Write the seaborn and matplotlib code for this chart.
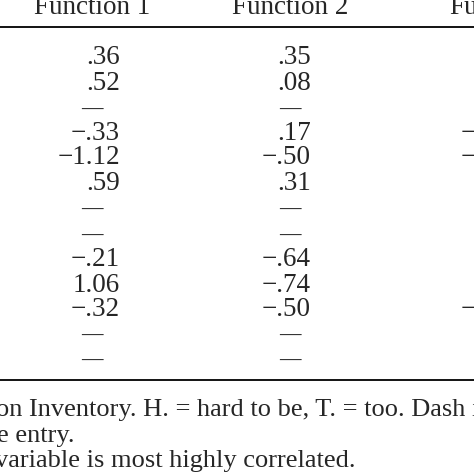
import matplotlib
matplotlib.use("Agg")
import matplotlib.pyplot as plt
import seaborn as sns

sns.set_theme(style="white")
plt.rcParams['font.family'] = ['Liberation Serif', 'DejaVu Serif']

headers = ["Function 1", "Function 2", "Fun"]
col1 = [".36", ".52", "—", "−.33", "−1.12", ".59", "—", "—", "−.21", "1.06", "−.32", "—", "—"]
col2 = [".35", ".08", "—", ".17", "−.50", ".31", "—", "—", "−.64", "−.74", "−.50", "—", "—"]
col3 = ["", "", "", "−", "−", "", "", "", "", "", "−", "", ""]
notes = ["on Inventory. H. = hard to be, T. = too. Dash indica",
         "e entry.",
         "variable is most highly correlated."]

fig = plt.figure(figsize=(4.74, 4.74), dpi=100)
ax = fig.add_axes([0, 0, 1, 1])
ax.set_xlim(0, 474); ax.set_ylim(474, 0); ax.axis("off")
fs = 19.5
hx = [92, 290, 470]
for x, h in zip(hx, headers):
    ax.text(x, 7, h, ha="center", va="center", fontsize=fs)
ax.plot([0, 474], [27, 27], color="black", lw=1.3)
ax.plot([0, 474], [380, 380], color="black", lw=1.3)
rows_y = [57, 83, 110, 133, 158, 183, 210, 236, 259, 285, 309, 336, 361]
for y, a, b, c in zip(rows_y, col1, col2, col3):
    if a == "—":
        ax.text(92, y, a, ha="center", va="center", fontsize=fs - 4, fontweight="bold")
    else:
        ax.text(120, y, a, ha="right", va="center", fontsize=fs)
    if b == "—":
        ax.text(290, y, b, ha="center", va="center", fontsize=fs - 4, fontweight="bold")
    else:
        ax.text(311, y, b, ha="right", va="center", fontsize=fs)
    if c:
        ax.text(461, y, c, ha="left", va="center", fontsize=fs)
for y, (x, t) in zip([410, 436, 461], zip([-4, -3, -5], notes)):
    ax.text(x, y, t, ha="left", va="center", fontsize=19)
fig.savefig("out.png", dpi=100)
